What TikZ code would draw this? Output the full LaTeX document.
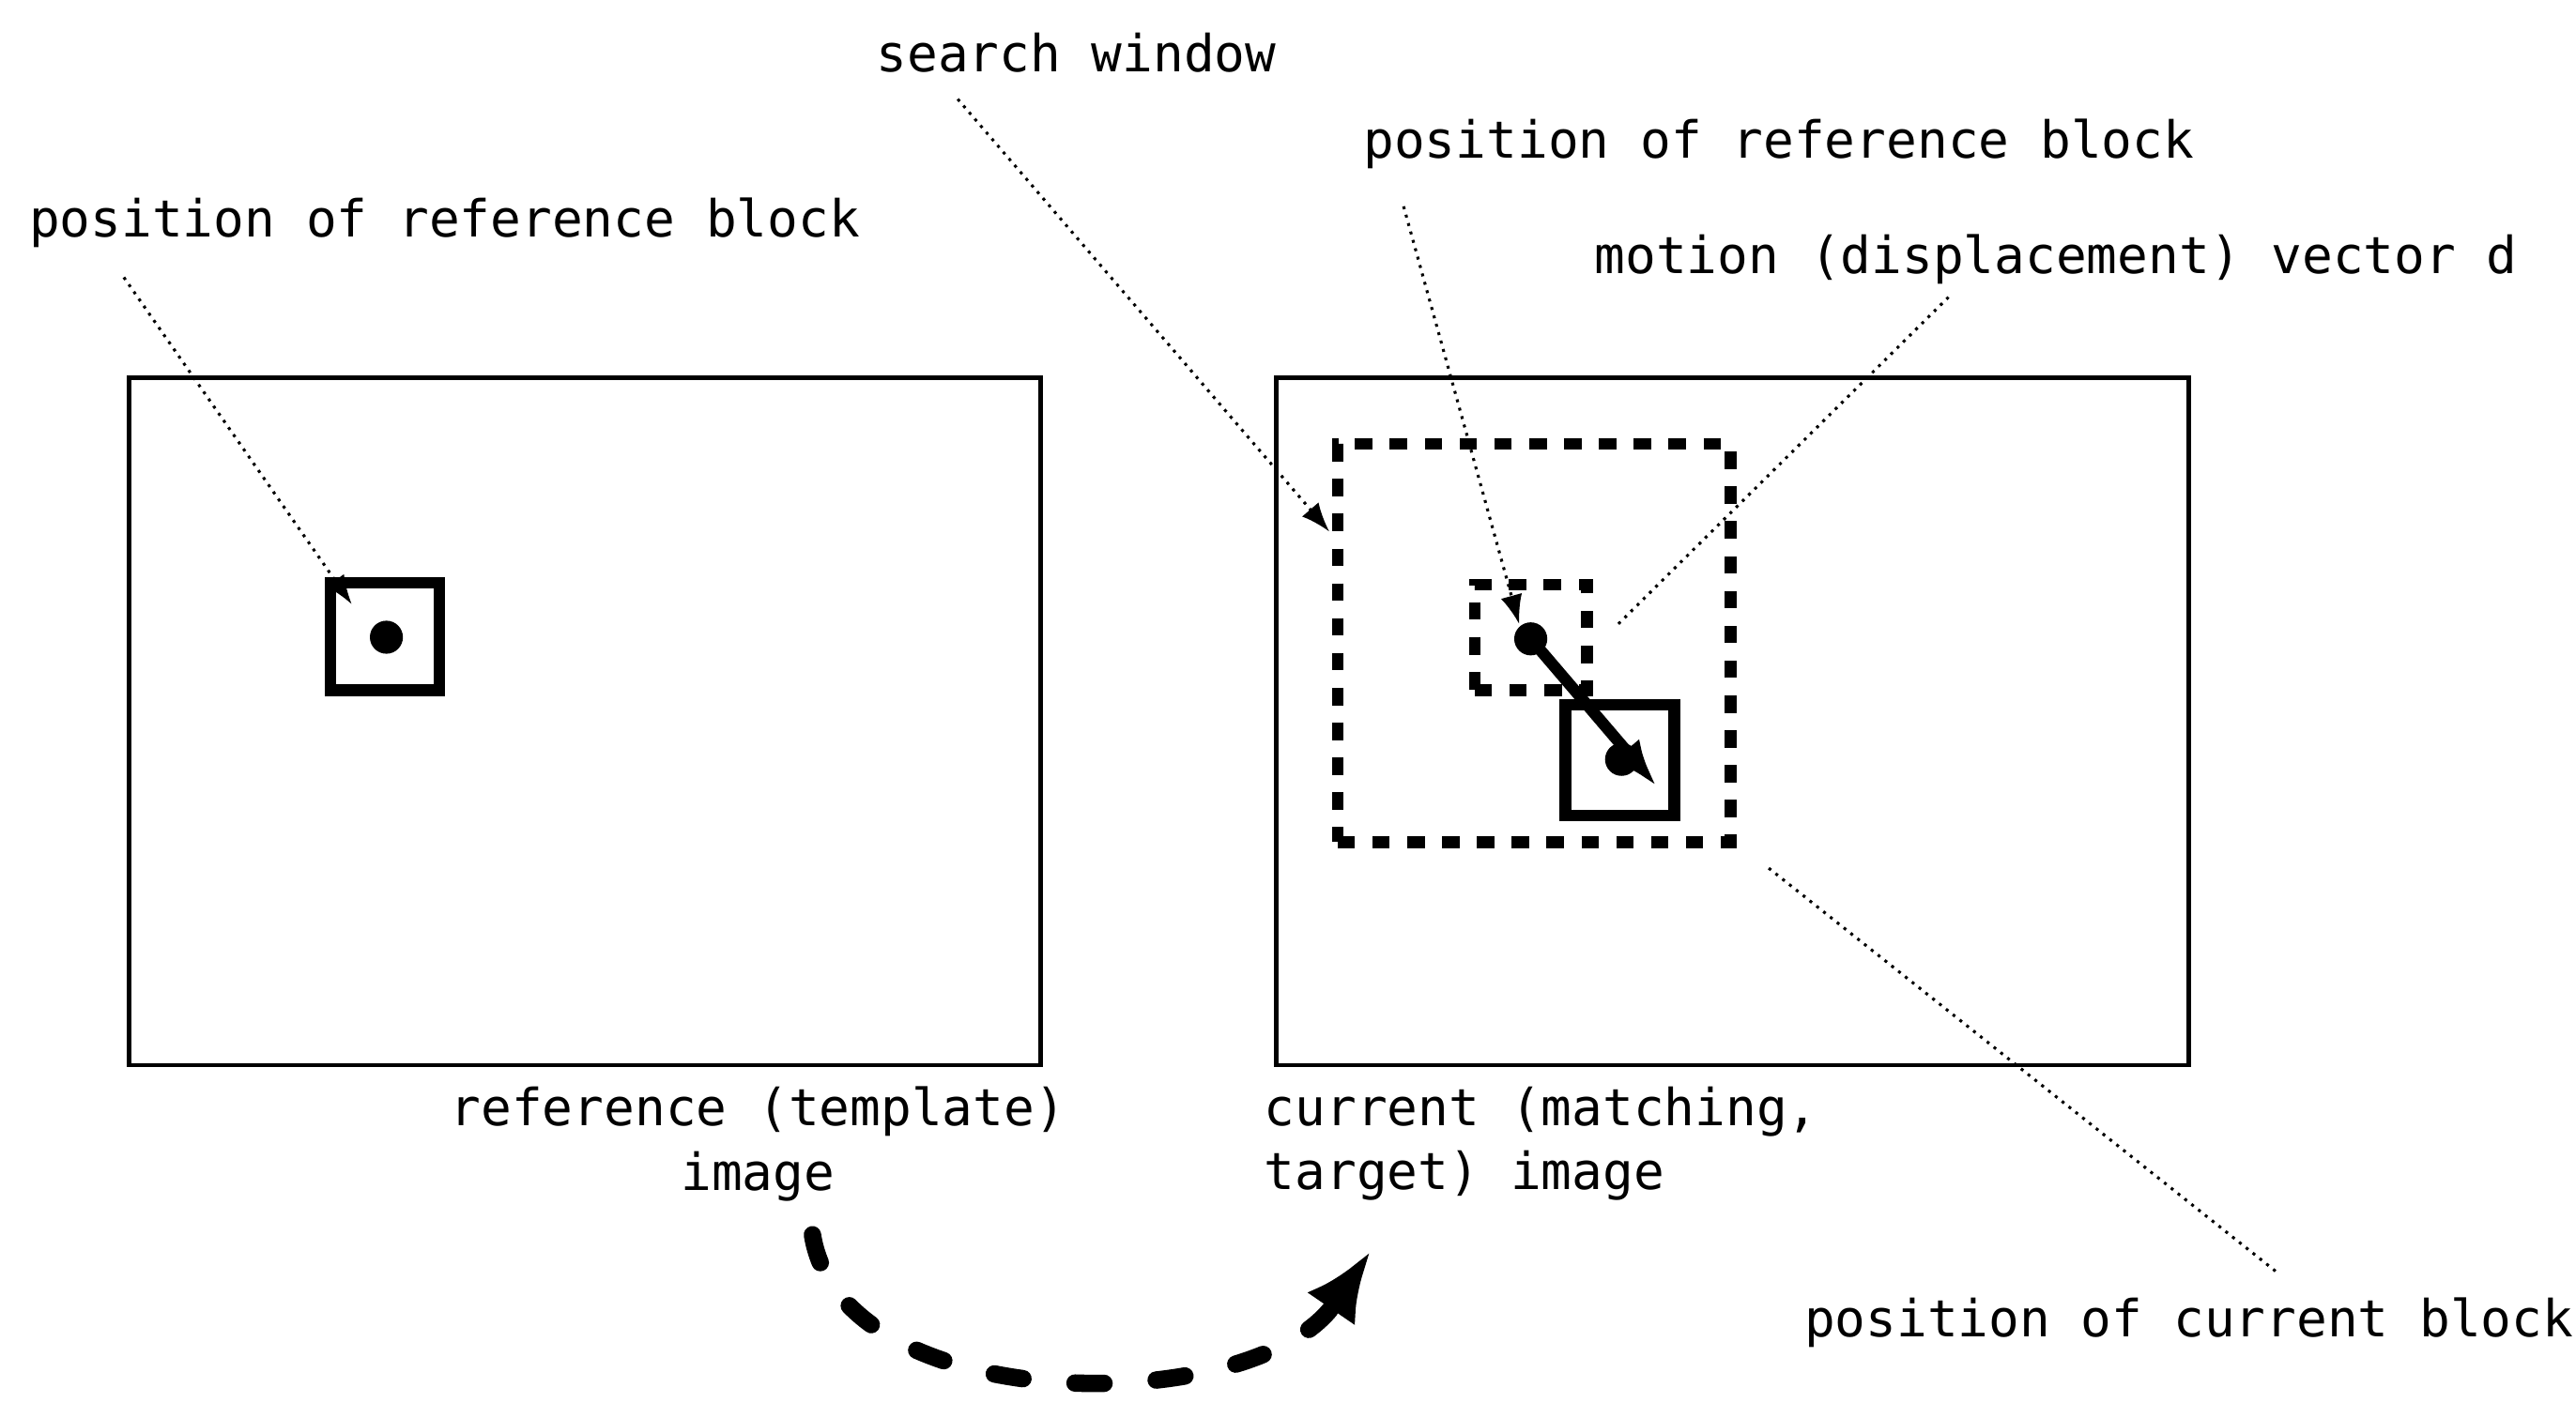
\documentclass[tikz,border=0pt]{standalone}
\usepackage{fontspec}
\setmainfont{DejaVu Sans Mono}
\usetikzlibrary{arrows.meta}
\begin{document}
\begin{tikzpicture}[x=0.01cm,y=-0.01cm,
 lbl/.style={font=\fontsize{8.8}{11}\selectfont,inner sep=0pt},
 lead/.style={densely dotted,line width=0.5pt},
 img/.style={draw,line width=0.8pt,outer sep=0pt},
 blk/.style={draw,line width=2pt,outer sep=0pt},
 dot/.style={circle,fill,inner sep=0pt,minimum size=0.2cm}]
\useasboundingbox (0,0) rectangle (1560,859);
\node[img,minimum width=5.52cm,minimum height=4.16cm,anchor=north west] (refimg) at (78,229) {};
\node[img,minimum width=5.52cm,minimum height=4.16cm,anchor=north west] (curimg) at (773,229) {};
\node[blk,minimum width=0.66cm,minimum height=0.65cm,anchor=north west] (refblk) at (200,353) {};
\node[dot] (refdot) at (234,386) {};
\coordinate (refarr) at (213,366);
\node[draw,dashed,line width=2pt,outer sep=0pt,minimum width=2.38cm,minimum height=2.41cm,anchor=north west] (sw) at (810,269) {};
\node[draw,dashed,line width=2pt,outer sep=0pt,minimum width=0.68cm,minimum height=0.64cm,anchor=north west] (oldblk) at (893,354) {};
\node[blk,minimum width=0.66cm,minimum height=0.67cm,anchor=north west] (curblk) at (948,427) {};
\node[dot] (d1) at (927,387) {};
\node[dot] (d2) at (982,460) {};
\coordinate (d2e) at (1003,476);
\draw[line width=2pt,-{Latex[length=8pt]}] (d1.center) -- (d2e);
\node[lbl,anchor=west] (t1) at (17,135) {position of reference block};
\node[lbl,anchor=west] (t2) at (530,32) {search window};
\node[lbl,anchor=west] (t3) at (825,87) {position of reference block};
\node[lbl,anchor=west] (t4) at (965,157) {motion (displacement) vector d};
\node[lbl,anchor=west] (t5) at (1092,801) {position of current block};
\node[lbl,align=center] (t6) at (459,693) {reference (template)\\image};
\node[lbl,align=left,anchor=west] (t7) at (765,693) {current (matching,\\target) image};
\coordinate (sa) at (805,322);
\coordinate (ra) at (920,378);
\coordinate (ma) at (980,378);
\coordinate (ca) at (1070,525);
\draw[lead,-{Latex[length=5pt]}] (75,168) -- (refarr);
\draw[lead,-{Latex[length=5pt]}] (580,60) -- (sa);
\draw[lead,-{Latex[length=5pt]}] (850,125) -- (ra);
\draw[lead] (1180,180) -- (ma);
\draw[lead] (1378,770) -- (ca);
\coordinate (c1) at (492,748);
\coordinate (c2) at (830,758);
\draw[line width=3pt,line cap=round,dash pattern=on 5pt off 9pt,-{Latex[length=12pt,width=10pt]}] (c1) .. controls (510,860) and (760,860) .. (c2);
\end{tikzpicture}
\end{document}
